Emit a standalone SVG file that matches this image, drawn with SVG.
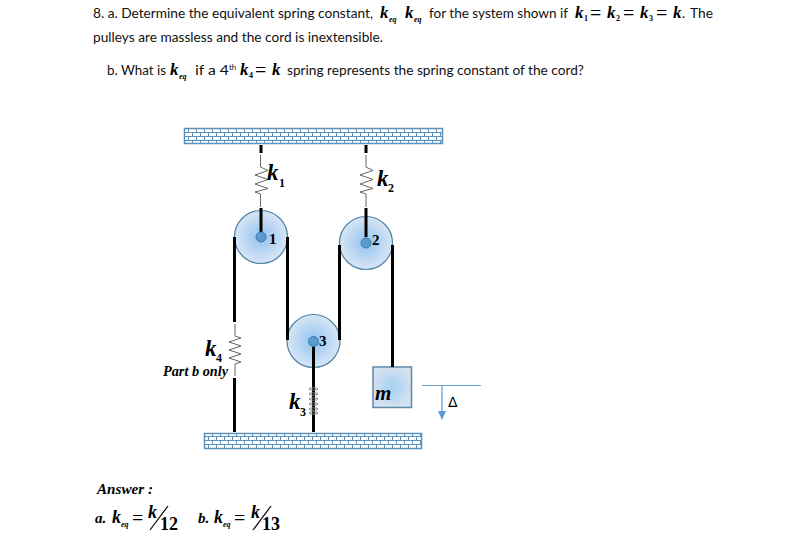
<svg xmlns="http://www.w3.org/2000/svg" width="811" height="558" viewBox="0 0 811 558">
<style>
.t{font-family:"Lato","Liberation Sans",sans-serif;font-size:13.5px;fill:#111}
.m{font-family:"Liberation Serif",serif;font-style:italic;font-weight:bold;fill:#000}
.k{font-size:17px}.sub{font-size:8px}.eq{font-family:"Liberation Serif",serif;fill:#000;font-size:20px}
.lk{font-size:23px}.ls{font-size:12px;font-family:"Liberation Serif",serif;font-weight:bold;fill:#000}
.n{font-family:"Liberation Serif",serif;font-weight:bold;font-size:15px;fill:#000}
.cord{stroke:#000;stroke-width:3;fill:none}
.spr{stroke:#666;stroke-width:1;fill:none}
.pul{fill:url(#pg);stroke:#4f81a8;stroke-width:1.2}
.axle{fill:#5a9bce;stroke:#3f7ba8;stroke-width:1}
.wall{fill:url(#brick);stroke:#5b92bd;stroke-width:1.5}
</style>
<defs>
<radialGradient id="pg"><stop offset="0" stop-color="#92c2f0"/><stop offset="1" stop-color="#d8e6f5"/></radialGradient>
<radialGradient id="mg"><stop offset="0" stop-color="#a5cff3"/><stop offset="1" stop-color="#d3e1f0"/></radialGradient>
<pattern id="brick" width="16" height="8" patternUnits="userSpaceOnUse" x="184" y="128">
<rect width="16" height="8" fill="#fff"/>
<path d="M0 .5H16M0 4.500H16M4.500 0V4M12.500 0V4M.5 4V8M8.500 4V8" stroke="#5b92bd" stroke-width="1" fill="none"/>
</pattern>
<marker id="ah" markerWidth="9" markerHeight="8" refX="8" refY="4" orient="auto" markerUnits="userSpaceOnUse"><path d="M0 0L9 4L0 8Z" fill="#5b9bd0"/></marker>
</defs>

<g id="question">
<text class="t" x="93" y="18" textLength="280" lengthAdjust="spacingAndGlyphs">8. a. Determine the equivalent spring constant,</text>
<text class="m k" x="380" y="18">k</text><text class="m sub" x="389" y="22">eq</text>
<text class="m k" x="405" y="18">k</text><text class="m sub" x="414" y="22">eq</text>
<text class="t" x="429" y="18" textLength="139" lengthAdjust="spacingAndGlyphs">for the system shown if</text>
<text class="m k" x="575" y="18">k</text><text class="ls" style="font-size:8px" x="584" y="21">1</text><text class="eq" x="590" y="20">=</text>
<text class="m k" x="607" y="18">k</text><text class="ls" style="font-size:8px" x="616" y="21">2</text><text class="eq" x="623" y="20">=</text>
<text class="m k" x="640" y="18">k</text><text class="ls" style="font-size:8px" x="649" y="21">3</text><text class="eq" x="656" y="20">=</text>
<text class="m k" x="673" y="18">k</text><text class="t" x="682" y="18">.</text>
<text class="t" x="690" y="18" textLength="23" lengthAdjust="spacingAndGlyphs">The</text>
<text class="t" x="93" y="42" textLength="290" lengthAdjust="spacingAndGlyphs">pulleys are massless and the cord is inextensible.</text>
<text class="t" x="107" y="75" textLength="59" lengthAdjust="spacingAndGlyphs">b. What is</text>
<text class="m k" x="170" y="75">k</text><text class="m sub" x="179" y="79">eq</text>
<text class="t" x="195" y="75" textLength="34" lengthAdjust="spacingAndGlyphs">if a 4</text>
<text class="t" style="font-size:8px" x="229" y="70">th</text>
<text class="m k" x="240" y="75">k</text><text class="ls" style="font-size:8px" x="249" y="78">4</text><text class="eq" x="255" y="77">=</text>
<text class="m k" x="272" y="75">k</text>
<text class="t" x="287" y="75" textLength="297" lengthAdjust="spacingAndGlyphs">spring represents the spring constant of the cord?</text>
</g>

<g id="top-wall"><rect class="wall" x="184.500" y="128.500" width="258" height="15"/></g>
<g id="bottom-wall"><rect class="wall" x="204.500" y="433.500" width="217" height="15"/></g>

<g id="pulley-1"><circle class="pul" cx="261" cy="237" r="26.500"/></g>
<g id="pulley-2"><circle class="pul" cx="366" cy="243" r="26.500"/></g>
<g id="pulley-3"><circle class="pul" cx="313.500" cy="341" r="26.500"/></g>
<g id="mass"><rect x="373" y="367" width="38.500" height="40.500" fill="url(#mg)" stroke="#5f88a8" stroke-width="1.500"/>
<text class="m" style="font-size:21px" x="375" y="400">m</text></g>

<g id="connectors">
<path class="cord" d="M261 145V153M261 208V232"/>
<path class="cord" d="M366 145V153M366 208V237"/>
<path class="cord" d="M234.500 237V322M234.500 378V432"/>
<path class="cord" d="M287.500 237V340"/>
<path class="cord" d="M339.500 245V340"/>
<path class="cord" d="M392.500 245V367"/>
<path class="cord" d="M313.500 342V432"/>
<path class="spr" d="M260.500 155V167L268 170.500L255 175L268 179.500L255 184L268 188.500L255 192L260.500 194V207"/>
<path class="spr" d="M366 155V167L373 170.500L360 175L373 179.500L360 184L373 188.500L360 192L366 194V207"/>
<path class="spr" d="M235 324V336L241 338L229 342L241 346L229 350L241 354L229 358L241 362L235 364V376"/>
<g class="spr" style="stroke:#888"><ellipse cx="313.500" cy="389" rx="4.500" ry="1.200"/><ellipse cx="313.500" cy="394" rx="4.500" ry="1.200"/><ellipse cx="313.500" cy="399" rx="4.500" ry="1.200"/><ellipse cx="313.500" cy="404" rx="4.500" ry="1.200"/><ellipse cx="313.500" cy="409" rx="4.500" ry="1.200"/><ellipse cx="313.500" cy="413" rx="4.500" ry="1.200"/></g>
<path d="M422 385.500H481" stroke="#6aa3d0" stroke-width="1" fill="none"/>
<path d="M442 385.500V419" stroke="#5b9bd0" stroke-width="1.200" fill="none" marker-end="url(#ah)"/>
</g>

<g id="axles">
<circle class="axle" cx="261" cy="237" r="5"/>
<circle class="axle" cx="366" cy="243" r="5"/>
<circle class="axle" cx="313.500" cy="341.500" r="5"/>
</g>

<g id="labels">
<text class="m lk" x="267" y="180">k</text><text class="ls" x="279" y="187">1</text>
<text class="m lk" x="377" y="186">k</text><text class="ls" x="388" y="192">2</text>
<text class="n" x="269" y="244">1</text>
<text class="n" x="372" y="245">2</text>
<text class="n" x="319" y="346">3</text>
<text class="m lk" x="205" y="356">k</text><text class="ls" x="216" y="362">4</text>
<text class="m" style="font-size:14px" x="163" y="376" textLength="65" lengthAdjust="spacingAndGlyphs">Part b only</text>
<text class="m lk" x="289" y="409">k</text><text class="ls" x="300" y="416">3</text>
<text x="448" y="407" font-family="DejaVu Sans,sans-serif" font-size="14" fill="#000">Δ</text>
</g>

<g id="answer">
<text class="m" style="font-size:15px" x="97" y="494" textLength="56" lengthAdjust="spacingAndGlyphs">Answer :</text>
<text class="m" style="font-size:15px" x="95" y="523">a.</text>
<text class="m" style="font-size:18px" x="112" y="523">k</text><text class="m sub" x="121" y="527">eq</text>
<text class="eq" x="132" y="525">=</text>
<text class="m" style="font-size:18px" x="148" y="518">k</text>
<path d="M150 530L168 506" stroke="#000" stroke-width="1.200" fill="none"/>
<text class="n" style="font-size:18px" x="160" y="530">12</text>
<text class="m" style="font-size:15px" x="198" y="523">b.</text>
<text class="m" style="font-size:18px" x="214" y="523">k</text><text class="m sub" x="223" y="527">eq</text>
<text class="eq" x="234" y="525">=</text>
<text class="m" style="font-size:18px" x="251" y="518">k</text>
<path d="M253 530L271 506" stroke="#000" stroke-width="1.200" fill="none"/>
<text class="n" style="font-size:18px" x="262" y="530">13</text>
</g>
</svg>
